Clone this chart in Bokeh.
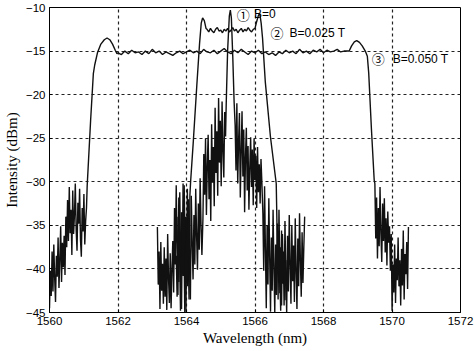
import numpy as np
from bokeh.plotting import figure
from bokeh.models import Label, Range1d, FixedTicker
from bokeh.embed import file_html
from bokeh.resources import INLINE

# ---------------- data (wavelength nm, intensity dBm) ----------------
x_ticks = [1560, 1562, 1564, 1566, 1568, 1570, 1572]
y_ticks = [-45, -40, -35, -30, -25, -20, -15, -10]

# Curve 1 : B = 0
c1_tail_left_span = (1563.70, 1564.45)
c1_tail_left = [-38.5, -43.2, -34.0, -41.5, -31.2, -39.0, -44.6, -33.5, -40.8, -30.4,
                -37.6, -44.9, -35.2, -42.0, -32.0, -38.7, -43.5, -31.6, -36.9, -41.2,
                -33.8, -39.5, -30.8, -36.2, -40.1, -32.5, -37.8, -29.6, -35.0, -38.4]
c1_noise_left_span = (1564.48, 1565.14)
c1_noise_left = [-34.2, -26.8, -31.5, -25.0, -33.8, -28.2, -24.6, -32.0, -27.5, -34.5,
                 -23.4, -30.1, -26.0, -32.8, -21.5, -29.0, -24.2, -31.6, -20.4, -27.8,
                 -23.0, -30.5, -20.8, -26.4, -29.5, -22.0, -24.8]
c1_peak_wl = [1565.16, 1565.20, 1565.25, 1565.28, 1565.31, 1565.35, 1565.39]
c1_peak_db = [-21.0, -15.0, -11.0, -10.3, -11.2, -15.5, -20.8]
c1_noise_right_span = (1565.42, 1566.20)
c1_noise_right = [-23.5, -28.7, -21.0, -30.2, -25.4, -22.1, -31.8, -26.6, -21.9, -29.4,
                  -24.0, -33.5, -27.2, -23.8, -31.0, -25.9, -33.2, -28.4, -24.9, -30.6,
                  -26.3, -32.7, -25.1, -29.8, -27.0, -33.0, -26.0, -31.2, -28.0, -32.5,
                  -27.4, -30.0]
c1_tail_right_span = (1566.23, 1566.90)
c1_tail_right = [-33.6, -40.2, -30.5, -37.8, -44.5, -35.0, -41.8, -31.9, -38.6, -44.9,
                 -36.4, -42.5, -33.2, -39.9, -45.0, -37.2, -43.0, -34.8, -40.5, -35.6,
                 -42.8, -37.5, -44.2, -36.0, -41.0, -38.2, -43.6, -39.0]

# Curve 2 : B = 0.025 T
c2_noise_left_span = (1563.15, 1564.10)
c2_noise_left = [-35.2, -41.8, -38.0, -44.6, -36.9, -42.5, -39.4, -44.0, -37.5, -43.2,
                 -38.8, -44.7, -36.0, -41.0, -43.9, -38.2, -44.5, -40.0, -36.8, -42.7,
                 -33.0, -39.5, -30.4, -37.2, -43.0, -31.8, -38.8, -44.8, -33.5, -40.6,
                 -30.2, -36.5, -45.0, -34.0, -41.2, -30.8, -38.0, -43.5, -31.5]
c2_rise_wl = [1564.12, 1564.20, 1564.30, 1564.38, 1564.43, 1564.47, 1564.52, 1564.57]
c2_rise_db = [-30.0, -25.3, -19.0, -14.2, -11.8, -11.2, -11.5, -12.4]
c2_flat_span = (1564.60, 1566.00)
c2_flat = [-12.5, -12.8, -12.4, -12.7, -12.9, -12.5, -12.3, -12.7, -12.6, -12.9,
           -12.5, -12.7, -12.4, -12.8, -12.6, -12.3, -12.7, -12.5, -12.9, -12.6,
           -12.4, -12.8, -12.5, -12.7, -12.3, -12.6, -12.8, -12.5, -12.4]
c2_fall_wl = [1566.05, 1566.10, 1566.14, 1566.18, 1566.22, 1566.30, 1566.45, 1566.62]
c2_fall_db = [-11.6, -10.9, -10.7, -11.8, -13.5, -18.5, -24.8, -30.2]
c2_noise_right_span = (1566.65, 1567.45)
c2_noise_right = [-36.8, -43.5, -33.2, -40.0, -44.8, -35.6, -41.7, -38.0, -44.2, -34.5,
                  -40.8, -45.0, -36.2, -42.6, -33.8, -39.5, -44.0, -35.0, -41.4, -37.3,
                  -43.8, -34.2, -40.2, -44.6, -36.5, -42.0, -33.6, -39.0, -43.2, -35.8,
                  -41.6, -37.6, -34.0]

# Curve 3 : B = 0.050 T
c3_noise_left_span = (1560.00, 1561.08)
c3_noise_left = [-44.5, -40.2, -43.1, -38.0, -42.6, -37.2, -41.0, -43.8, -38.5, -40.9,
                 -36.4, -42.2, -38.9, -35.1, -41.5, -37.0, -39.8, -36.2, -40.7, -34.0,
                 -37.5, -32.1, -36.8, -30.6, -35.9, -33.2, -38.4, -31.0, -36.0, -33.8,
                 -30.2, -35.5, -37.9, -32.4, -34.8, -30.8, -36.6, -38.6, -33.0, -35.7,
                 -31.4, -37.2, -34.5, -33.0]
c3_rise_wl = [1561.10, 1561.20, 1561.28, 1561.32, 1561.40, 1561.50, 1561.60, 1561.68,
              1561.76, 1561.84, 1561.92, 1561.97]
c3_rise_db = [-30.5, -23.0, -17.6, -16.6, -15.2, -14.2, -13.7, -13.5,
              -13.7, -14.2, -14.9, -15.3]
c3_flat_span = (1562.0, 1568.6)
c3_flat = [-15.2, -15.4, -15.0, -15.3, -14.9, -15.2, -15.1, -15.4, -15.0, -15.3,
           -14.8, -15.2, -15.0, -15.4, -15.1, -15.3, -15.5, -15.2, -15.0, -15.3,
           -15.1, -14.9, -15.2, -15.0, -15.3, -14.8, -15.1, -15.2, -14.9, -15.3,
           -15.0, -14.7, -15.1, -15.3, -14.9, -15.2, -14.8, -15.1, -15.4, -15.0,
           -15.2, -14.9, -15.3, -15.1, -15.4, -15.2, -15.5, -15.1, -15.3, -14.9,
           -15.2, -15.0, -15.3, -14.8, -15.2, -15.0, -15.3, -14.9, -15.1, -14.8,
           -15.2, -14.9, -15.1, -15.0, -14.8, -15.1, -15.0]
c3_fall_wl = [1568.75, 1568.82, 1568.90, 1568.97, 1569.05, 1569.13, 1569.22, 1569.28,
              1569.32, 1569.40, 1569.48]
c3_fall_db = [-15.0, -14.4, -13.95, -13.8, -14.0, -14.4, -15.0, -15.6,
              -17.5, -24.0, -29.8]
c3_noise_right_span = (1569.50, 1570.48)
c3_noise_right = [-30.2, -36.5, -31.8, -38.8, -33.0, -37.4, -30.6, -35.9, -39.2, -32.5,
                  -36.8, -31.9, -38.1, -34.2, -39.6, -33.4, -37.0, -35.1, -40.2, -36.0,
                  -44.8, -39.5, -42.7, -37.2, -43.9, -38.8, -41.3, -36.4, -42.0, -39.0,
                  -44.2, -37.7, -41.9, -35.6, -43.5, -38.3, -40.6, -36.9, -42.3, -35.2]

label_marks = ["\u2460", "\u2461", "\u2462"]
label_texts = ["B=0", "B=0.025 T", "B=0.050 T"]
label_x = [1565.47, 1566.45, 1569.41]
label_text_x = [1565.97, 1567.01, 1570.02]
label_y = [-10.8, -12.9, -15.9]


def span(rng, vals):
    return list(np.linspace(rng[0], rng[1], len(vals)))


def build(parts):
    xs, ys = [], []
    for px, py in parts:
        xs += list(px)
        ys += list(py)
    return xs, ys


c1_x, c1_y = build([
    (span(c1_tail_left_span, c1_tail_left), c1_tail_left),
    (span(c1_noise_left_span, c1_noise_left), c1_noise_left),
    (c1_peak_wl, c1_peak_db),
    (span(c1_noise_right_span, c1_noise_right), c1_noise_right),
    (span(c1_tail_right_span, c1_tail_right), c1_tail_right),
])
c2_x, c2_y = build([
    (span(c2_noise_left_span, c2_noise_left), c2_noise_left),
    (c2_rise_wl, c2_rise_db),
    (span(c2_flat_span, c2_flat), c2_flat),
    (c2_fall_wl, c2_fall_db),
    (span(c2_noise_right_span, c2_noise_right), c2_noise_right),
])
c3_x, c3_y = build([
    (span(c3_noise_left_span, c3_noise_left), c3_noise_left),
    (c3_rise_wl, c3_rise_db),
    (span(c3_flat_span, c3_flat), c3_flat),
    (c3_fall_wl, c3_fall_db),
    (span(c3_noise_right_span, c3_noise_right), c3_noise_right),
])

# ---------------- figure ----------------
p = figure(width=474, height=351, output_backend="svg", toolbar_location=None,
           x_range=Range1d(1560, 1572), y_range=Range1d(-45, -10),
           min_border_left=43, min_border_right=14, min_border_top=7, min_border_bottom=39)
p.background_fill_color = "white"
p.border_fill_color = "white"
p.outline_line_color = "black"
p.outline_line_width = 1

for xs, ys in [(c3_x, c3_y), (c2_x, c2_y), (c1_x, c1_y)]:
    p.line(xs, ys, line_color="#111111", line_width=1.4)

p.xaxis.ticker = FixedTicker(ticks=x_ticks)
p.yaxis.ticker = FixedTicker(ticks=y_ticks)
for ax in (p.xaxis, p.yaxis):
    ax.major_tick_out = 0
    ax.major_tick_in = 3
    ax.minor_tick_line_color = None
    ax.axis_line_color = "black"
    ax.major_label_text_font = "Liberation Sans"
    ax.major_label_text_font_size = "11.5px"
    ax.major_label_text_color = "black"
    ax.axis_label_text_font = "Liberation Serif"
    ax.axis_label_text_font_style = "normal"
    ax.axis_label_text_font_size = "15px"
    ax.axis_label_text_color = "black"
p.xaxis.axis_label = "Wavelength (nm)"
p.yaxis.axis_label = "Intensity (dBm)"
p.xaxis.major_label_standoff = 4
p.yaxis.major_label_standoff = 4
p.xaxis.axis_label_standoff = 2
p.yaxis.axis_label_standoff = 3

for g in (p.xgrid, p.ygrid):
    g.grid_line_color = "#222222"
    g.grid_line_dash = "3 3"
    g.grid_line_width = 1.2
    g.grid_line_alpha = 1

for m, t, lx, tx, ly in zip(label_marks, label_texts, label_x, label_text_x, label_y):
    p.add_layout(Label(x=lx, y=ly, text=m, text_font="Noto Sans CJK JP",
                       text_font_size="13px", text_color="black",
                       text_baseline="middle", text_align="left"))
    p.add_layout(Label(x=tx, y=ly, text=t, text_font="Liberation Sans",
                       text_font_size="12px", text_color="black",
                       text_baseline="middle", text_align="left"))

open("out.html", "w").write(file_html(p, INLINE))
